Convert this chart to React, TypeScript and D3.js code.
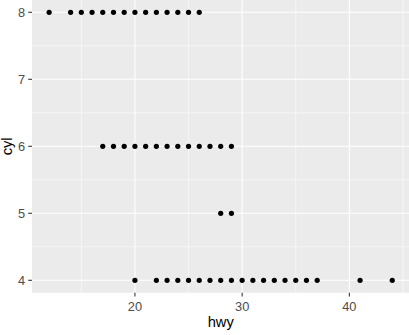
import React from "react";
import * as d3 from "d3";

const cyl8 = [12, 14, 15, 16, 17, 18, 19, 20, 21, 22, 23, 24, 25, 26];
const cyl6 = [17, 18, 19, 20, 21, 22, 23, 24, 25, 26, 27, 28, 29];
const cyl5 = [28, 29];
const cyl4 = [20, 22, 23, 24, 25, 26, 27, 28, 29, 30, 31, 32, 33, 34, 35, 36, 37, 41, 44];
const xTicks = [20, 30, 40];
const xMinor = [15, 25, 35, 45];
const yTicks = [4, 5, 6, 7, 8];
const yMinor = [4.5, 5.5, 6.5, 7.5];

const W = 409;
const H = 335;
const left = 32;
const right = 409.4;
const top = 0;
const bottom = 292.7;

export default function App() {
  const x = d3.scaleLinear().domain([10.4, 45.6]).range([left, right]);
  const y = d3.scaleLinear().domain([4, 8]).range([280.3, 12.3]);
  const pts: [number, number][] = [
    ...cyl8.map((h) => [h, 8] as [number, number]),
    ...cyl6.map((h) => [h, 6] as [number, number]),
    ...cyl5.map((h) => [h, 5] as [number, number]),
    ...cyl4.map((h) => [h, 4] as [number, number]),
  ];
  const font = "'Liberation Sans', Arial, sans-serif";
  return (
    <svg
      width={W}
      height={H}
      style={{ position: "absolute", left: 0, top: 0 }}
      fontFamily={font}
    >
      <rect x={0} y={0} width={W} height={H} fill="white" />
      <rect x={left} y={top} width={right - left} height={bottom - top} fill="#EBEBEB" />
      {xMinor.map((v) => (
        <line key={"xm" + v} x1={x(v)} x2={x(v)} y1={top} y2={bottom} stroke="white" strokeWidth={0.55} />
      ))}
      {yMinor.map((v) => (
        <line key={"ym" + v} x1={left} x2={right} y1={y(v)} y2={y(v)} stroke="white" strokeWidth={0.55} />
      ))}
      {xTicks.map((v) => (
        <line key={"xM" + v} x1={x(v)} x2={x(v)} y1={top} y2={bottom} stroke="white" strokeWidth={1.07} />
      ))}
      {yTicks.map((v) => (
        <line key={"yM" + v} x1={left} x2={right} y1={y(v)} y2={y(v)} stroke="white" strokeWidth={1.07} />
      ))}
      {pts.map(([h, c], i) => (
        <circle key={i} cx={x(h)} cy={y(c)} r={2.6} fill="black" />
      ))}
      {xTicks.map((v) => (
        <g key={"xt" + v}>
          <line x1={x(v)} x2={x(v)} y1={bottom} y2={bottom + 3.8} stroke="#333333" strokeWidth={1.07} />
          <text x={x(v)} y={310.5} textAnchor="middle" fontSize={12.8} fill="#4D4D4D">
            {v}
          </text>
        </g>
      ))}
      {yTicks.map((v) => (
        <g key={"yt" + v}>
          <line x1={left - 3.8} x2={left} y1={y(v)} y2={y(v)} stroke="#333333" strokeWidth={1.07} />
          <text x={left - 7} y={y(v)} dy="0.36em" textAnchor="end" fontSize={12.8} fill="#4D4D4D">
            {v}
          </text>
        </g>
      ))}
      <text x={(left + right) / 2} y={327.3} textAnchor="middle" fontSize={14.7} fill="black">
        hwy
      </text>
      <text
        transform={`translate(12.2,${(top + bottom) / 2}) rotate(-90)`}
        textAnchor="middle"
        fontSize={14.7}
        fill="black"
      >
        cyl
      </text>
    </svg>
  );
}
